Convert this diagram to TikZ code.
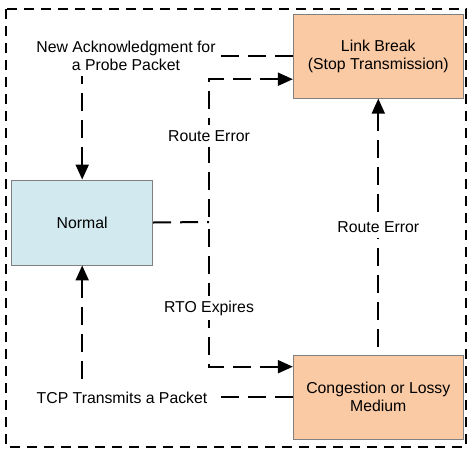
\documentclass[tikz,border=0pt]{standalone}
\usepackage{fontspec}
\setmainfont{Liberation Sans}
\usepackage{xcolor}
\definecolor{peach}{RGB}{250,202,164}
\definecolor{paleblue}{RGB}{210,233,239}
\usetikzlibrary{positioning}
\usetikzlibrary{arrows.meta}

\begin{document}
\begin{tikzpicture}[x=1pt,y=-1pt,
			font=\fontsize{15.8}{18}\selectfont,
			state/.style={draw=gray,line width=0.9pt,minimum width=170pt,minimum height=84pt,align=center},
			label/.style={fill=white,inner sep=5pt,align=center},
			link/.style={line width=2pt,dash pattern=on 18pt off 9pt},
			arr/.style={link,{Triangle[length=15pt,width=13pt]}-},
			frame/.style={line width=1.5pt,dash pattern=on 10pt off 7pt}]
		\useasboundingbox (0,0) rectangle (474,451);
		\draw[frame] (6,9) rectangle (466,447);
		\node[state,fill=peach] (linkbreak) at (378.3,56.2) {Link Break\\(Stop Transmission)};
		\node[state,fill=paleblue,minimum width=141pt,minimum height=85pt] (normal) at (82.2,222.5) {Normal};
		\node[state,fill=peach] (congestion) at (378.3,397.2) {Congestion or Lossy\\Medium};
		\node[label] (ack) at (126,56) {New Acknowledgment for\\a Probe Packet};
		\node[label] (tcp) at (122,397.7) {TCP Transmits a Packet};
		\coordinate (split) at (209,222);
		\draw[link] (linkbreak.west) -- (linkbreak.west -| ack.east);
		\draw[arr] (normal.north) -- (ack.south -| normal.north);
		\draw[link] (congestion.west) -- (congestion.west -| tcp.east);
		\draw[arr] (normal.south) -- (tcp.north -| normal.south);
		\draw[link] (normal.east) -- (split);
		\draw[arr] ([yshift=-23pt]linkbreak.west) -| (split);
		\draw[arr] ([yshift=30.5pt]congestion.west) -| (split);
		\draw[arr] (linkbreak.south) -- (congestion.north);
		\node[label] (err1) at (209,136) {Route Error};
		\node[label] (rto) at (209,308) {RTO Expires};
		\node[label] (err2) at (378.3,227) {Route Error};
		\end{tikzpicture}
\end{document}
